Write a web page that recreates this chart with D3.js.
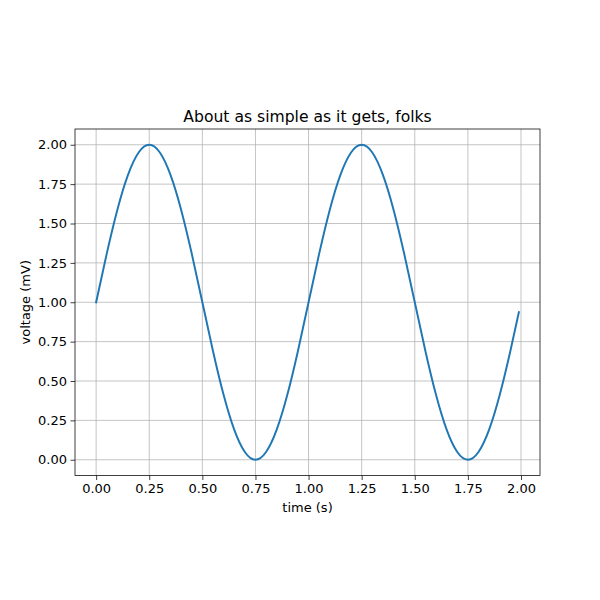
<!DOCTYPE html>
<html>
<head>
<meta charset="utf-8">
<script src="https://cdn.jsdelivr.net/npm/d3@7"></script>
<style>
  body { margin: 0; background: #fff; }
  text { font-family: "DejaVu Sans", sans-serif; fill: #000; }
</style>
</head>
<body>
<div id="chart"></div>
<script>
// time (s) and voltage (mV)
const times = [0.00, 0.05, 0.10, 0.15, 0.20, 0.25, 0.30, 0.35, 0.40, 0.45,
               0.50, 0.55, 0.60, 0.65, 0.70, 0.75, 0.80, 0.85, 0.90, 0.95,
               1.00, 1.05, 1.10, 1.15, 1.20, 1.25, 1.30, 1.35, 1.40, 1.45,
               1.50, 1.55, 1.60, 1.65, 1.70, 1.75, 1.80, 1.85, 1.90, 1.95, 1.99];
const voltages = [1.000, 1.309, 1.588, 1.809, 1.951, 2.000, 1.951, 1.809, 1.588, 1.309,
                  1.000, 0.691, 0.412, 0.191, 0.049, 0.000, 0.049, 0.191, 0.412, 0.691,
                  1.000, 1.309, 1.588, 1.809, 1.951, 2.000, 1.951, 1.809, 1.588, 1.309,
                  1.000, 0.691, 0.412, 0.191, 0.049, 0.000, 0.049, 0.191, 0.412, 0.691,
                  0.937];
const xTicks = [0, 0.25, 0.5, 0.75, 1, 1.25, 1.5, 1.75, 2];
const yTicks = [0, 0.25, 0.5, 0.75, 1, 1.25, 1.5, 1.75, 2];
const title = "About as simple as it gets, folks";
const xLabel = "time (s)";
const yLabel = "voltage (mV)";

const W = 600, H = 600;
const mLeft = 75, mRight = 540, mTop = 129, mBottom = 475.5;

const svg = d3.select("#chart").append("svg")
  .attr("width", W).attr("height", H);

// 5% margins like matplotlib
const xr = d3.extent(times), yr = d3.extent(voltages);
const xp = (xr[1] - xr[0]) * 0.05, yp = (yr[1] - yr[0]) * 0.05;
const x = d3.scaleLinear().domain([xr[0] - xp, xr[1] + xp]).range([mLeft, mRight]);
const y = d3.scaleLinear().domain([yr[0] - yp, yr[1] + yp]).range([mBottom, mTop]);

// grid
const grid = svg.append("g").attr("stroke", "#b0b0b0").attr("stroke-width", 0.75);
grid.selectAll(".gx").data(xTicks).enter().append("line")
  .attr("x1", d => x(d)).attr("x2", d => x(d))
  .attr("y1", mTop).attr("y2", mBottom);
grid.selectAll(".gy").data(yTicks).enter().append("line")
  .attr("y1", d => y(d)).attr("y2", d => y(d))
  .attr("x1", mLeft).attr("x2", mRight);

// the line
const line = d3.line()
  .x((d, i) => x(times[i]))
  .y(d => y(d))
  .curve(d3.curveNatural);
svg.append("path")
  .datum(voltages)
  .attr("d", line)
  .attr("fill", "none")
  .attr("stroke", "#1f77b4")
  .attr("stroke-width", 1.95)
  .attr("stroke-linecap", "square");

// axes
const fmt = d3.format(".2f");
const xAxis = svg.append("g")
  .attr("transform", `translate(0,${mBottom})`)
  .call(d3.axisBottom(x).tickValues(xTicks).tickFormat(fmt).tickSize(4.5).tickPadding(3.5));
const yAxis = svg.append("g")
  .attr("transform", `translate(${mLeft},0)`)
  .call(d3.axisLeft(y).tickValues(yTicks).tickFormat(fmt).tickSize(4.5).tickPadding(3.5));
[xAxis, yAxis].forEach(a => {
  a.select(".domain").remove();
  a.selectAll("line").attr("stroke", "#000").attr("stroke-width", 0.75);
  a.selectAll("text").style("font-size", "13px").style("font-family", "DejaVu Sans");
});

// spines
svg.append("rect")
  .attr("x", mLeft).attr("y", mTop)
  .attr("width", mRight - mLeft).attr("height", mBottom - mTop)
  .attr("fill", "none").attr("stroke", "#000").attr("stroke-width", 0.75);

// labels
svg.append("text")
  .attr("x", (mLeft + mRight) / 2).attr("y", 122)
  .attr("text-anchor", "middle")
  .style("font-size", "15.6px")
  .text(title);
svg.append("text")
  .attr("x", (mLeft + mRight) / 2).attr("y", 512)
  .attr("text-anchor", "middle")
  .style("font-size", "13px")
  .text(xLabel);
svg.append("text")
  .attr("transform", `translate(30,${(mTop + mBottom) / 2}) rotate(-90)`)
  .attr("text-anchor", "middle")
  .style("font-size", "13px")
  .text(yLabel);
</script>
</body>
</html>
